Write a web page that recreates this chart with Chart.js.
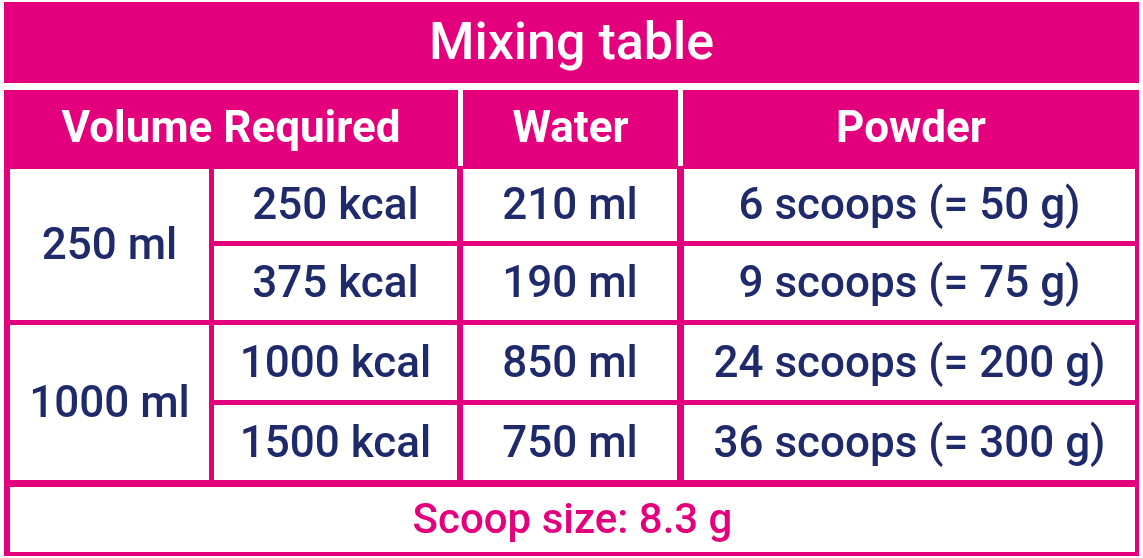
<!DOCTYPE html>
<html><head><meta charset="utf-8">
<script src="https://cdn.jsdelivr.net/npm/chart.js@4"></script>
<style>html,body{margin:0;padding:0;background:#fff}#c{display:block}</style>
</head><body>
<div style="width:1143px;height:558px"><canvas id="c"></canvas></div>
<script>
const title = "Mixing table";
const headers = ["Volume Required", "Water", "Powder"];
const volumes = ["250 ml", "1000 ml"];
const kcal = ["250 kcal", "375 kcal", "1000 kcal", "1500 kcal"];
const water = ["210 ml", "190 ml", "850 ml", "750 ml"];
const powder = ["6 scoops (= 50 g)", "9 scoops (= 75 g)", "24 scoops (= 200 g)", "36 scoops (= 300 g)"];
const footer = "Scoop size: 8.3 g";

const MAG = "#e4007c", NAVY = "#1f2a6b";
const FONT = "'Roboto','DejaVu Sans',sans-serif";
const cols = [[10,209],[214,457],[463,677],[684,1135]];
const rows = [[169,241],[246,320],[325,400],[405,480]];

const tablePlugin = {
  id: 'table',
  beforeDraw(chart) {
    const {ctx, scales:{x, y}} = chart;
    const px = v => x.getPixelForValue(v), py = v => y.getPixelForValue(v);
    const rect = (x0,y0,x1,y1,c) => { ctx.fillStyle=c; ctx.fillRect(px(x0),py(y0),px(x1)-px(x0),py(y1)-py(y0)); };
    const text = (t,x0,y0,x1,y1,c,size,weight) => {
      ctx.fillStyle=c; ctx.font=weight+" "+size+"px "+FONT;
      ctx.textAlign="center"; ctx.textBaseline="middle";
      ctx.fillText(t,(px(x0)+px(x1))/2,(py(y0)+py(y1))/2+3);
    };
    ctx.save();
    rect(0,0,1143,558,"#fff");
    rect(4,2,1139,556,MAG);
    text(title,4,2,1139,83,"#fff",52,500);
    rect(4,83,1139,90,"#fff");
    rect(458,90,463,166,"#fff");
    rect(678,90,683,166,"#fff");
    text(headers[0],4,90,458,166,"#fff",44,"bold");
    text(headers[1],463,90,678,166,"#fff",44,"bold");
    text(headers[2],683,90,1139,166,"#fff",44,"bold");
    for (let g=0; g<2; g++) {
      const y0 = rows[g*2][0], y1 = rows[g*2+1][1];
      rect(cols[0][0],y0,cols[0][1],y1,"#fff");
      text(volumes[g],cols[0][0],y0,cols[0][1],y1,NAVY,44,500);
    }
    for (let r=0; r<4; r++) {
      const [y0,y1] = rows[r];
      const vals = [kcal[r], water[r], powder[r]];
      for (let c=1; c<4; c++) {
        rect(cols[c][0],y0,cols[c][1],y1,"#fff");
        text(vals[c-1],cols[c][0],y0,cols[c][1],y1,NAVY,44,500);
      }
    }
    rect(10,487,1135,552,"#fff");
    text(footer,10,487,1135,552,MAG,42,500);
    ctx.restore();
  }
};

new Chart(document.getElementById('c'), {
  type: 'scatter',
  data: { datasets: [{ data: [] }] },
  options: {
    responsive: true, maintainAspectRatio: false, animation: false,
    layout: { padding: 0 },
    plugins: { legend: { display: false }, tooltip: { enabled: false } },
    scales: {
      x: { type:'linear', min:0, max:1143, display:false },
      y: { type:'linear', min:0, max:558, reverse:true, display:false }
    }
  },
  plugins: [tablePlugin]
});
</script>
</body></html>
